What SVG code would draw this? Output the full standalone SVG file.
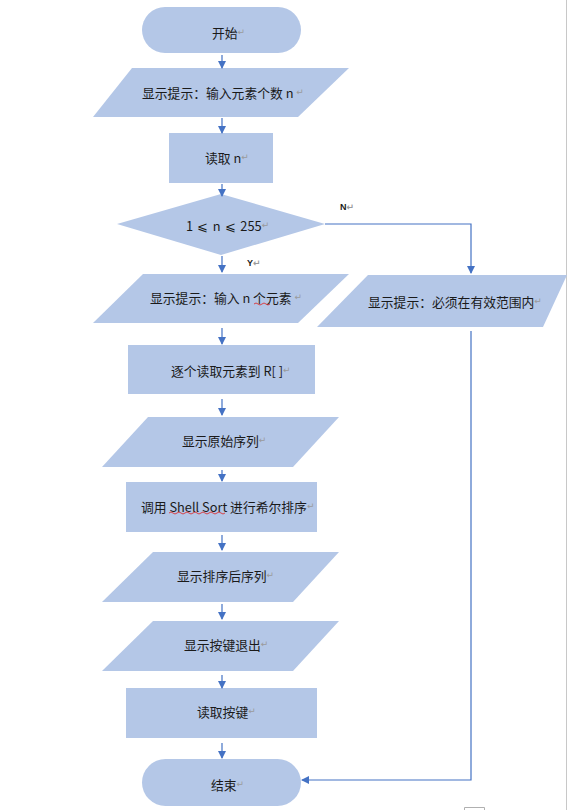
<svg xmlns="http://www.w3.org/2000/svg" width="568" height="810" viewBox="0 0 568 810">
<style>
.s{fill:#B4C7E7;stroke:none}
.t{font-family:"Noto Sans CJK SC","Liberation Sans",sans-serif;font-size:12.8px;fill:#1a1a1a;dominant-baseline:central}
.lb{font-family:"Liberation Sans",sans-serif;font-size:9px;font-weight:bold;fill:#1a1a1a;dominant-baseline:central}
.pm{fill:#9a9a9a;font-family:"DejaVu Sans",sans-serif;font-size:9px}
.c{fill:none;stroke:#4472C4;stroke-width:1.2}
.w{fill:none;stroke:#e02020;stroke-width:0.8}
</style>
<defs>
<marker id="ah" viewBox="0 0 8 8" refX="7" refY="4" markerWidth="8" markerHeight="8" markerUnits="userSpaceOnUse" orient="auto">
<path d="M0,0 L8,4 L0,8 Z" fill="#4472C4"/>
</marker>
</defs>
<rect width="568" height="810" fill="#ffffff"/>
<line x1="566.5" y1="0" x2="566.5" y2="810" stroke="#c8c8c8" stroke-width="1"/>
<path d="M464.5,810 V807.5 H484.5 V810" fill="none" stroke="#b0b0b0" stroke-width="1"/>

<g id="start"><rect class="s" x="142" y="7" width="159" height="46" rx="23"/><text class="t" x="212" y="32">开始<tspan class="pm">↵</tspan></text></g>
<g id="input-n-prompt"><polygon class="s" points="132,68 349,68 298,117 93,117"/><text class="t" x="142" y="92">显示提示：输入元素个数 n <tspan class="pm">↵</tspan></text></g>
<g id="read-n"><rect class="s" x="169" y="133" width="104" height="50"/><text class="t" x="205" y="157">读取 n<tspan class="pm">↵</tspan></text></g>
<g id="check-range"><polygon class="s" points="221,194 325,224 221,255 117,224"/><text class="t" x="186" y="225" word-spacing="1.5">1 ⩽ n ⩽ 255<tspan class="pm">↵</tspan></text></g>
<g id="input-elements-prompt"><polygon class="s" points="143,274 349,274 298,323 93,323"/><text class="t" x="150" y="297">显示提示：输入 n 个元素 <tspan class="pm">↵</tspan></text><path class="w" d="M254,304 q2,-2 4,0 t4,0 t4,0 t4,0"/></g>
<g id="range-error"><polygon class="s" points="368,275 567,275 543,327 317,327"/><text class="t" x="368" y="301">显示提示：必须在有效范围内<tspan class="pm">↵</tspan></text></g>
<g id="read-elements"><rect class="s" x="128" y="345" width="187" height="49"/><text class="t" x="171" y="370">逐个读取元素到 R[ ]<tspan class="pm">↵</tspan></text></g>
<g id="show-original"><polygon class="s" points="148,417 339,417 293,467 102,467"/><text class="t" x="182" y="440">显示原始序列<tspan class="pm">↵</tspan></text></g>
<g id="shell-sort"><rect class="s" x="126" y="482" width="191" height="50"/><text class="t" x="141" y="506">调用 Shell Sort 进行希尔排序<tspan class="pm">↵</tspan></text><path class="w" d="M169,513 q2,-2 4,0 t4,0 t4,0 t4,0 t4,0 t4,0 t4,0 t4,0 t4,0 t4,0 t4,0 t4,0 t4,0 t4,0"/></g>
<g id="show-sorted"><polygon class="s" points="153,552 339,552 293,602 102,602"/><text class="t" x="177" y="575">显示排序后序列<tspan class="pm">↵</tspan></text></g>
<g id="show-exit"><polygon class="s" points="153,621 339,621 293,671 102,671"/><text class="t" x="184" y="644">显示按键退出<tspan class="pm">↵</tspan></text></g>
<g id="read-key"><rect class="s" x="126" y="688" width="191" height="50"/><text class="t" x="197" y="711">读取按键<tspan class="pm">↵</tspan></text></g>
<g id="end"><rect class="s" x="142" y="759" width="159" height="47" rx="23.5"/><text class="t" x="211" y="784">结束<tspan class="pm">↵</tspan></text></g>

<g id="labels">
<text class="lb" x="340" y="207">N<tspan class="pm">↵</tspan></text>
<text class="lb" x="247" y="263">Y<tspan class="pm">↵</tspan></text>
</g>

<g id="connectors">
<line class="c" x1="222" y1="55" x2="222" y2="68" marker-end="url(#ah)"/>
<line class="c" x1="222" y1="118" x2="222" y2="133" marker-end="url(#ah)"/>
<line class="c" x1="222" y1="184" x2="222" y2="196" marker-end="url(#ah)"/>
<line class="c" x1="222" y1="256" x2="222" y2="272" marker-end="url(#ah)"/>
<polyline class="c" points="325,224 471,224 471,273" marker-end="url(#ah)"/>
<line class="c" x1="222" y1="328" x2="222" y2="344" marker-end="url(#ah)"/>
<line class="c" x1="222" y1="399" x2="222" y2="415" marker-end="url(#ah)"/>
<line class="c" x1="222" y1="470" x2="222" y2="481" marker-end="url(#ah)"/>
<line class="c" x1="222" y1="535" x2="222" y2="550" marker-end="url(#ah)"/>
<line class="c" x1="222" y1="604" x2="222" y2="619" marker-end="url(#ah)"/>
<line class="c" x1="222" y1="675" x2="222" y2="688" marker-end="url(#ah)"/>
<line class="c" x1="222" y1="743" x2="222" y2="758" marker-end="url(#ah)"/>
<polyline class="c" points="471,331 471,780 302,780" marker-end="url(#ah)"/>
</g>
</svg>
